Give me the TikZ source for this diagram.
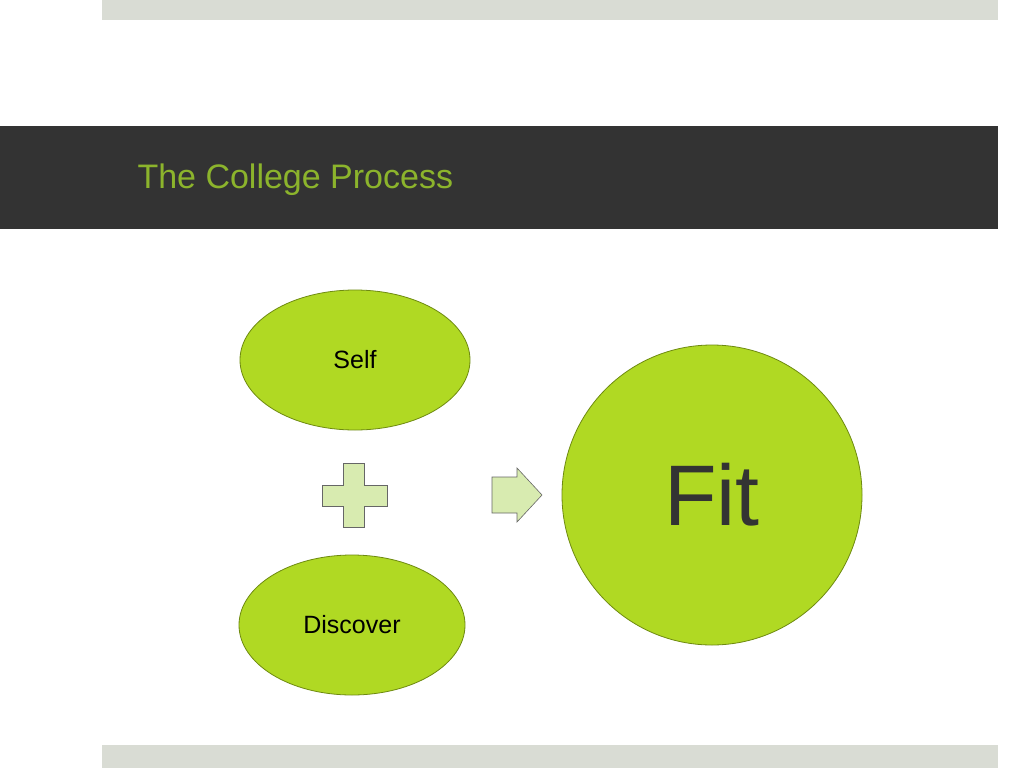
\documentclass[tikz,border=0pt]{standalone}
\usepackage{fontspec}
\setmainfont{Liberation Sans}
\usetikzlibrary{shapes.geometric}
\begin{document}
\begin{tikzpicture}[x=1pt,y=-1pt,
  blob/.style={fill=lime0,draw=olive0,line width=0.8pt,inner sep=0pt},
  shp/.style={fill=pale0,draw=gray!80!black,line width=0.6pt}]
\definecolor{lime0}{HTML}{B0D923}
\definecolor{olive0}{HTML}{6E8A10}
\definecolor{pale0}{HTML}{D8EBB0}
\definecolor{bar0}{HTML}{D9DCD4}
\definecolor{dark0}{HTML}{333333}
\definecolor{title0}{HTML}{8CB42C}
\useasboundingbox (0,0) rectangle (1024,768);
\fill[white] (0,0) rectangle (1024,768);
\fill[bar0] (102,0) rectangle (998,20);
\fill[dark0] (0,126) rectangle (998,229);
\fill[bar0] (102,745) rectangle (998,768);
\node[anchor=west,text=title0,font=\fontsize{34}{40}\selectfont] (title) at (134,180) {The College Process};
\node[blob,ellipse,minimum width=230,minimum height=140,font=\fontsize{25}{30}\selectfont] (self) at (355,360) {Self};
\node[blob,ellipse,minimum width=226,minimum height=140,font=\fontsize{25}{30}\selectfont] (disc) at (352,625) {Discover};
\node[blob,circle,minimum size=300,font=\fontsize{86}{100}\selectfont,text=dark0] (fit) at (712,495) {Fit};
\draw[shp] (343,463) -- (364,463) -- (364,485) -- (387,485) -- (387,506) -- (364,506) -- (364,527) -- (343,527) -- (343,506) -- (322,506) -- (322,485) -- (343,485) -- cycle;
\draw[shp] (492,477) -- (517,477) -- (517,468) -- (542,495) -- (517,522) -- (517,513) -- (492,513) -- cycle;
\end{tikzpicture}
\end{document}
